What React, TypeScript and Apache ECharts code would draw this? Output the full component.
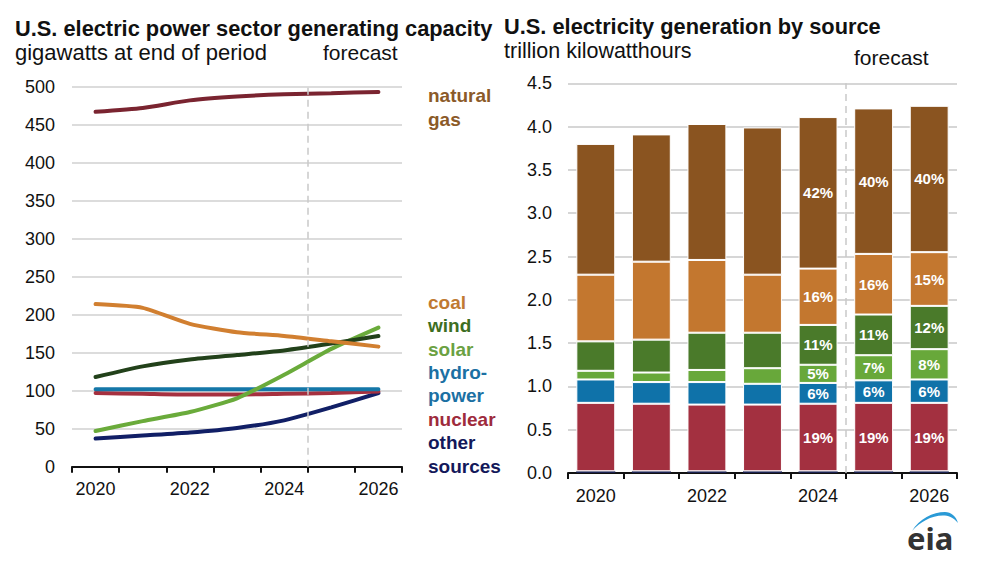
import React, { useEffect, useRef } from 'react';
import * as echarts from 'echarts';

// ---------- data ----------
const years = ['2020', '2021', '2022', '2023', '2024', '2025', '2026'];

// Left chart: generating capacity, gigawatts at end of period
const capGas = [467, 472, 482, 487, 490, 491.5, 493];
const capCoal = [214, 209, 188, 177, 172, 165, 158];
const capWind = [118, 132, 141, 147, 153, 162, 172];
const capSolar = [47, 60, 72, 90, 121, 155, 183];
const capHydro = [102, 102, 102, 102, 102, 102, 102];
const capNuclear = [97, 96, 95, 95, 96, 97, 99];
const capOther = [37, 41, 45, 51, 61, 78, 97];

// Right chart: generation by source, trillion kilowatthours
const genOther = [0.02, 0.02, 0.02, 0.02, 0.02, 0.02, 0.02];
const genNuclear = [0.79, 0.78, 0.77, 0.77, 0.78, 0.79, 0.79];
const genHydro = [0.27, 0.25, 0.26, 0.24, 0.24, 0.26, 0.27];
const genSolar = [0.10, 0.11, 0.14, 0.18, 0.21, 0.29, 0.35];
const genWind = [0.34, 0.38, 0.43, 0.41, 0.46, 0.47, 0.50];
const genCoal = [0.77, 0.90, 0.84, 0.67, 0.65, 0.70, 0.62];
const genGas = [1.51, 1.47, 1.57, 1.70, 1.75, 1.68, 1.69];

// share labels shown on the bars
const pctGas = ['', '', '', '', '42%', '40%', '40%'];
const pctCoal = ['', '', '', '', '16%', '16%', '15%'];
const pctWind = ['', '', '', '', '11%', '11%', '12%'];
const pctSolar = ['', '', '', '', '5%', '7%', '8%'];
const pctHydro = ['', '', '', '', '6%', '6%', '6%'];
const pctNuclear = ['', '', '', '', '19%', '19%', '19%'];

// forecast boundary (between 2024 and 2025, in category-band units)
const forecastBoundary = 5;

const FONT = '"Liberation Sans", Arial, Helvetica, sans-serif';
const SWOOSH = 'M0,19 C7,7 21,0 33,0 C39,0 44,4 46,11 C41,5 36,3.5 31,3.5 C19,3.5 8,10 0,19 Z';

const C = {
  gasLine: '#7a2430',
  coalLine: '#d17f30',
  windLine: '#22411a',
  solarLine: '#6aab3b',
  hydroLine: '#1577a8',
  nuclearLine: '#a5303f',
  otherLine: '#111f66',
  gasBar: '#8a5420',
  coalBar: '#c3772f',
  windBar: '#4a7a2a',
  solarBar: '#68a83a',
  hydroBar: '#0f72a9',
  nuclearBar: '#a33040',
  otherBar: '#1b2150',
  gasLbl: '#8b5a28',
  coalLbl: '#c07a32',
  windLbl: '#3d6e22',
  solarLbl: '#6ba142',
  hydroLbl: '#1b70a3',
  nuclearLbl: '#9e2b3c',
  otherLbl: '#13185a',
};

function txt(text: string, x: number, y: number, size: number, color: string, bold = false) {
  return {
    type: 'text',
    x,
    y,
    silent: true,
    style: {
      text,
      fill: color,
      fontSize: size,
      fontWeight: bold ? 'bold' : 'normal',
      fontFamily: FONT,
      align: 'left',
      textAlign: 'left',
      verticalAlign: 'middle',
      textVerticalAlign: 'middle',
    },
  };
}

function lineSeries(name: string, data: number[], color: string) {
  return {
    name,
    type: 'line',
    xAxisIndex: 0,
    yAxisIndex: 0,
    data,
    smooth: 0.2,
    showSymbol: false,
    symbol: 'none',
    lineStyle: { color, width: 4, cap: 'round' },
    itemStyle: { color },
    z: 3,
  };
}

function barSeries(name: string, data: number[], color: string, labels: string[] | null, border = true) {
  return {
    name,
    type: 'bar',
    xAxisIndex: 1,
    yAxisIndex: 1,
    stack: 'gen',
    data,
    barCategoryGap: '30%',
    itemStyle: { color, borderColor: border ? '#ffffff' : color, borderWidth: border ? 1 : 0 },
    label: labels
      ? {
          show: true,
          position: 'inside',
          formatter: (p: any) => labels[p.dataIndex],
          color: '#ffffff',
          fontWeight: 'bold',
          fontSize: 15,
          fontFamily: FONT,
        }
      : { show: false },
    z: 3,
  };
}

const forecastLine = (xAxisIndex: number, yAxisIndex: number) => ({
  type: 'line',
  xAxisIndex,
  yAxisIndex,
  data: [],
  silent: true,
  markLine: {
    silent: true,
    symbol: ['none', 'none'],
    label: { show: false },
    lineStyle: { type: [7, 5], color: '#c9c9c9', width: 1.5 },
    data: [{ xAxis: forecastBoundary }],
    animation: false,
  },
  z: 1,
});

const axisLabelStyle = { fontSize: 18, color: '#111', fontFamily: FONT };

const option: any = {
  animation: false,
  backgroundColor: '#ffffff',
  grid: [
    { left: 72, right: 598, top: 86.7, bottom: 96.3, containLabel: false },
    { left: 568, right: 43, top: 83.3, bottom: 90, containLabel: false },
  ],
  xAxis: [
    {
      type: 'category',
      gridIndex: 0,
      data: years,
      boundaryGap: true,
      axisLine: { show: true, lineStyle: { color: '#111', width: 2 } },
      axisTick: { show: true, interval: 0, length: 6, lineStyle: { color: '#111', width: 2 } },
      axisLabel: { ...axisLabelStyle, interval: 1, margin: 13 },
      splitLine: { show: false },
    },
    {
      type: 'category',
      gridIndex: 1,
      data: years,
      boundaryGap: true,
      axisLine: { show: true, lineStyle: { color: '#111', width: 2 } },
      axisTick: { show: true, interval: 0, length: 6, lineStyle: { color: '#111', width: 2 } },
      axisLabel: { ...axisLabelStyle, interval: 1, margin: 14 },
      splitLine: { show: false },
    },
    { type: 'value', gridIndex: 0, min: 0, max: 7, show: false, splitLine: { show: false } },
    { type: 'value', gridIndex: 1, min: 0, max: 7, show: false, splitLine: { show: false } },
  ],
  yAxis: [
    {
      type: 'value',
      gridIndex: 0,
      min: 0,
      max: 500,
      interval: 50,
      axisLine: { show: false },
      axisTick: { show: false },
      axisLabel: { ...axisLabelStyle, margin: 17 },
      splitLine: { show: true, lineStyle: { color: '#d0d0d0', width: 1.5 } },
    },
    {
      type: 'value',
      gridIndex: 1,
      min: 0,
      max: 4.5,
      interval: 0.5,
      axisLine: { show: false },
      axisTick: { show: false },
      axisLabel: { ...axisLabelStyle, margin: 16, formatter: (v: number) => v.toFixed(1) },
      splitLine: { show: true, lineStyle: { color: '#c8c8c8', width: 1.5 } },
    },
  ],
  series: [
    forecastLine(2, 0),
    forecastLine(3, 1),
    lineSeries('other sources', capOther, C.otherLine),
    lineSeries('nuclear', capNuclear, C.nuclearLine),
    lineSeries('hydropower', capHydro, C.hydroLine),
    lineSeries('solar', capSolar, C.solarLine),
    lineSeries('wind', capWind, C.windLine),
    lineSeries('coal', capCoal, C.coalLine),
    lineSeries('natural gas', capGas, C.gasLine),
    barSeries('other', genOther, C.otherBar, null, false),
    barSeries('nuclear', genNuclear, C.nuclearBar, pctNuclear),
    barSeries('hydropower', genHydro, C.hydroBar, pctHydro),
    barSeries('solar', genSolar, C.solarBar, pctSolar),
    barSeries('wind', genWind, C.windBar, pctWind),
    barSeries('coal', genCoal, C.coalBar, pctCoal),
    barSeries('natural gas', genGas, C.gasBar, pctGas),
  ],
  graphic: [
    txt('U.S. electric power sector generating capacity', 15, 28.5, 21.8, '#111', true),
    txt('gigawatts at end of period', 15, 52, 22, '#111'),
    txt('forecast', 323, 52, 21, '#111'),
    txt('U.S. electricity generation by source', 504, 26, 21.8, '#111', true),
    txt('trillion kilowatthours', 504, 51, 21.5, '#111'),
    txt('forecast', 854, 57, 21, '#111'),
    txt('natural', 428, 95, 19, C.gasLbl, true),
    txt('gas', 428, 119, 19, C.gasLbl, true),
    txt('coal', 428, 302, 19, C.coalLbl, true),
    txt('wind', 428, 325, 19, C.windLbl, true),
    txt('solar', 428, 349, 19, C.solarLbl, true),
    txt('hydro-', 428, 372, 19, C.hydroLbl, true),
    txt('power', 428, 395, 19, C.hydroLbl, true),
    txt('nuclear', 428, 419, 19, C.nuclearLbl, true),
    txt('other', 428, 442, 19, C.otherLbl, true),
    txt('sources', 428, 466, 19, C.otherLbl, true),
    {
      type: 'eiaSwoosh',
      x: 912,
      y: 512,
      silent: true,
      style: { fill: '#2a9ad6' },
    },
    {
      type: 'text',
      x: 907,
      y: 538,
      silent: true,
      style: {
        text: 'eia',
        fill: '#333333',
        fontSize: 31,
        fontWeight: 'bold',
        fontFamily: '"Noto Sans", "Open Sans", sans-serif',
        align: 'left',
        textAlign: 'left',
        verticalAlign: 'middle',
        textVerticalAlign: 'middle',
      },
    },
  ],
};

let shapeRegistered = false;

export default function App() {
  const ref = useRef<HTMLDivElement>(null);
  useEffect(() => {
    if (!ref.current) return;
    if (!shapeRegistered) {
      try {
        echarts.graphic.registerShape('eiaSwoosh', echarts.graphic.extendPath(SWOOSH, {}) as any);
      } catch (e) {
        /* ignore */
      }
      shapeRegistered = true;
    }
    const chart = echarts.init(ref.current, null, { renderer: 'svg' });
    chart.setOption(option);
    return () => {
      chart.dispose();
    };
  }, []);
  return (
    <div
      ref={ref}
      style={{ position: 'absolute', left: 0, top: 0, width: 1000, height: 563, background: '#fff' }}
    />
  );
}
